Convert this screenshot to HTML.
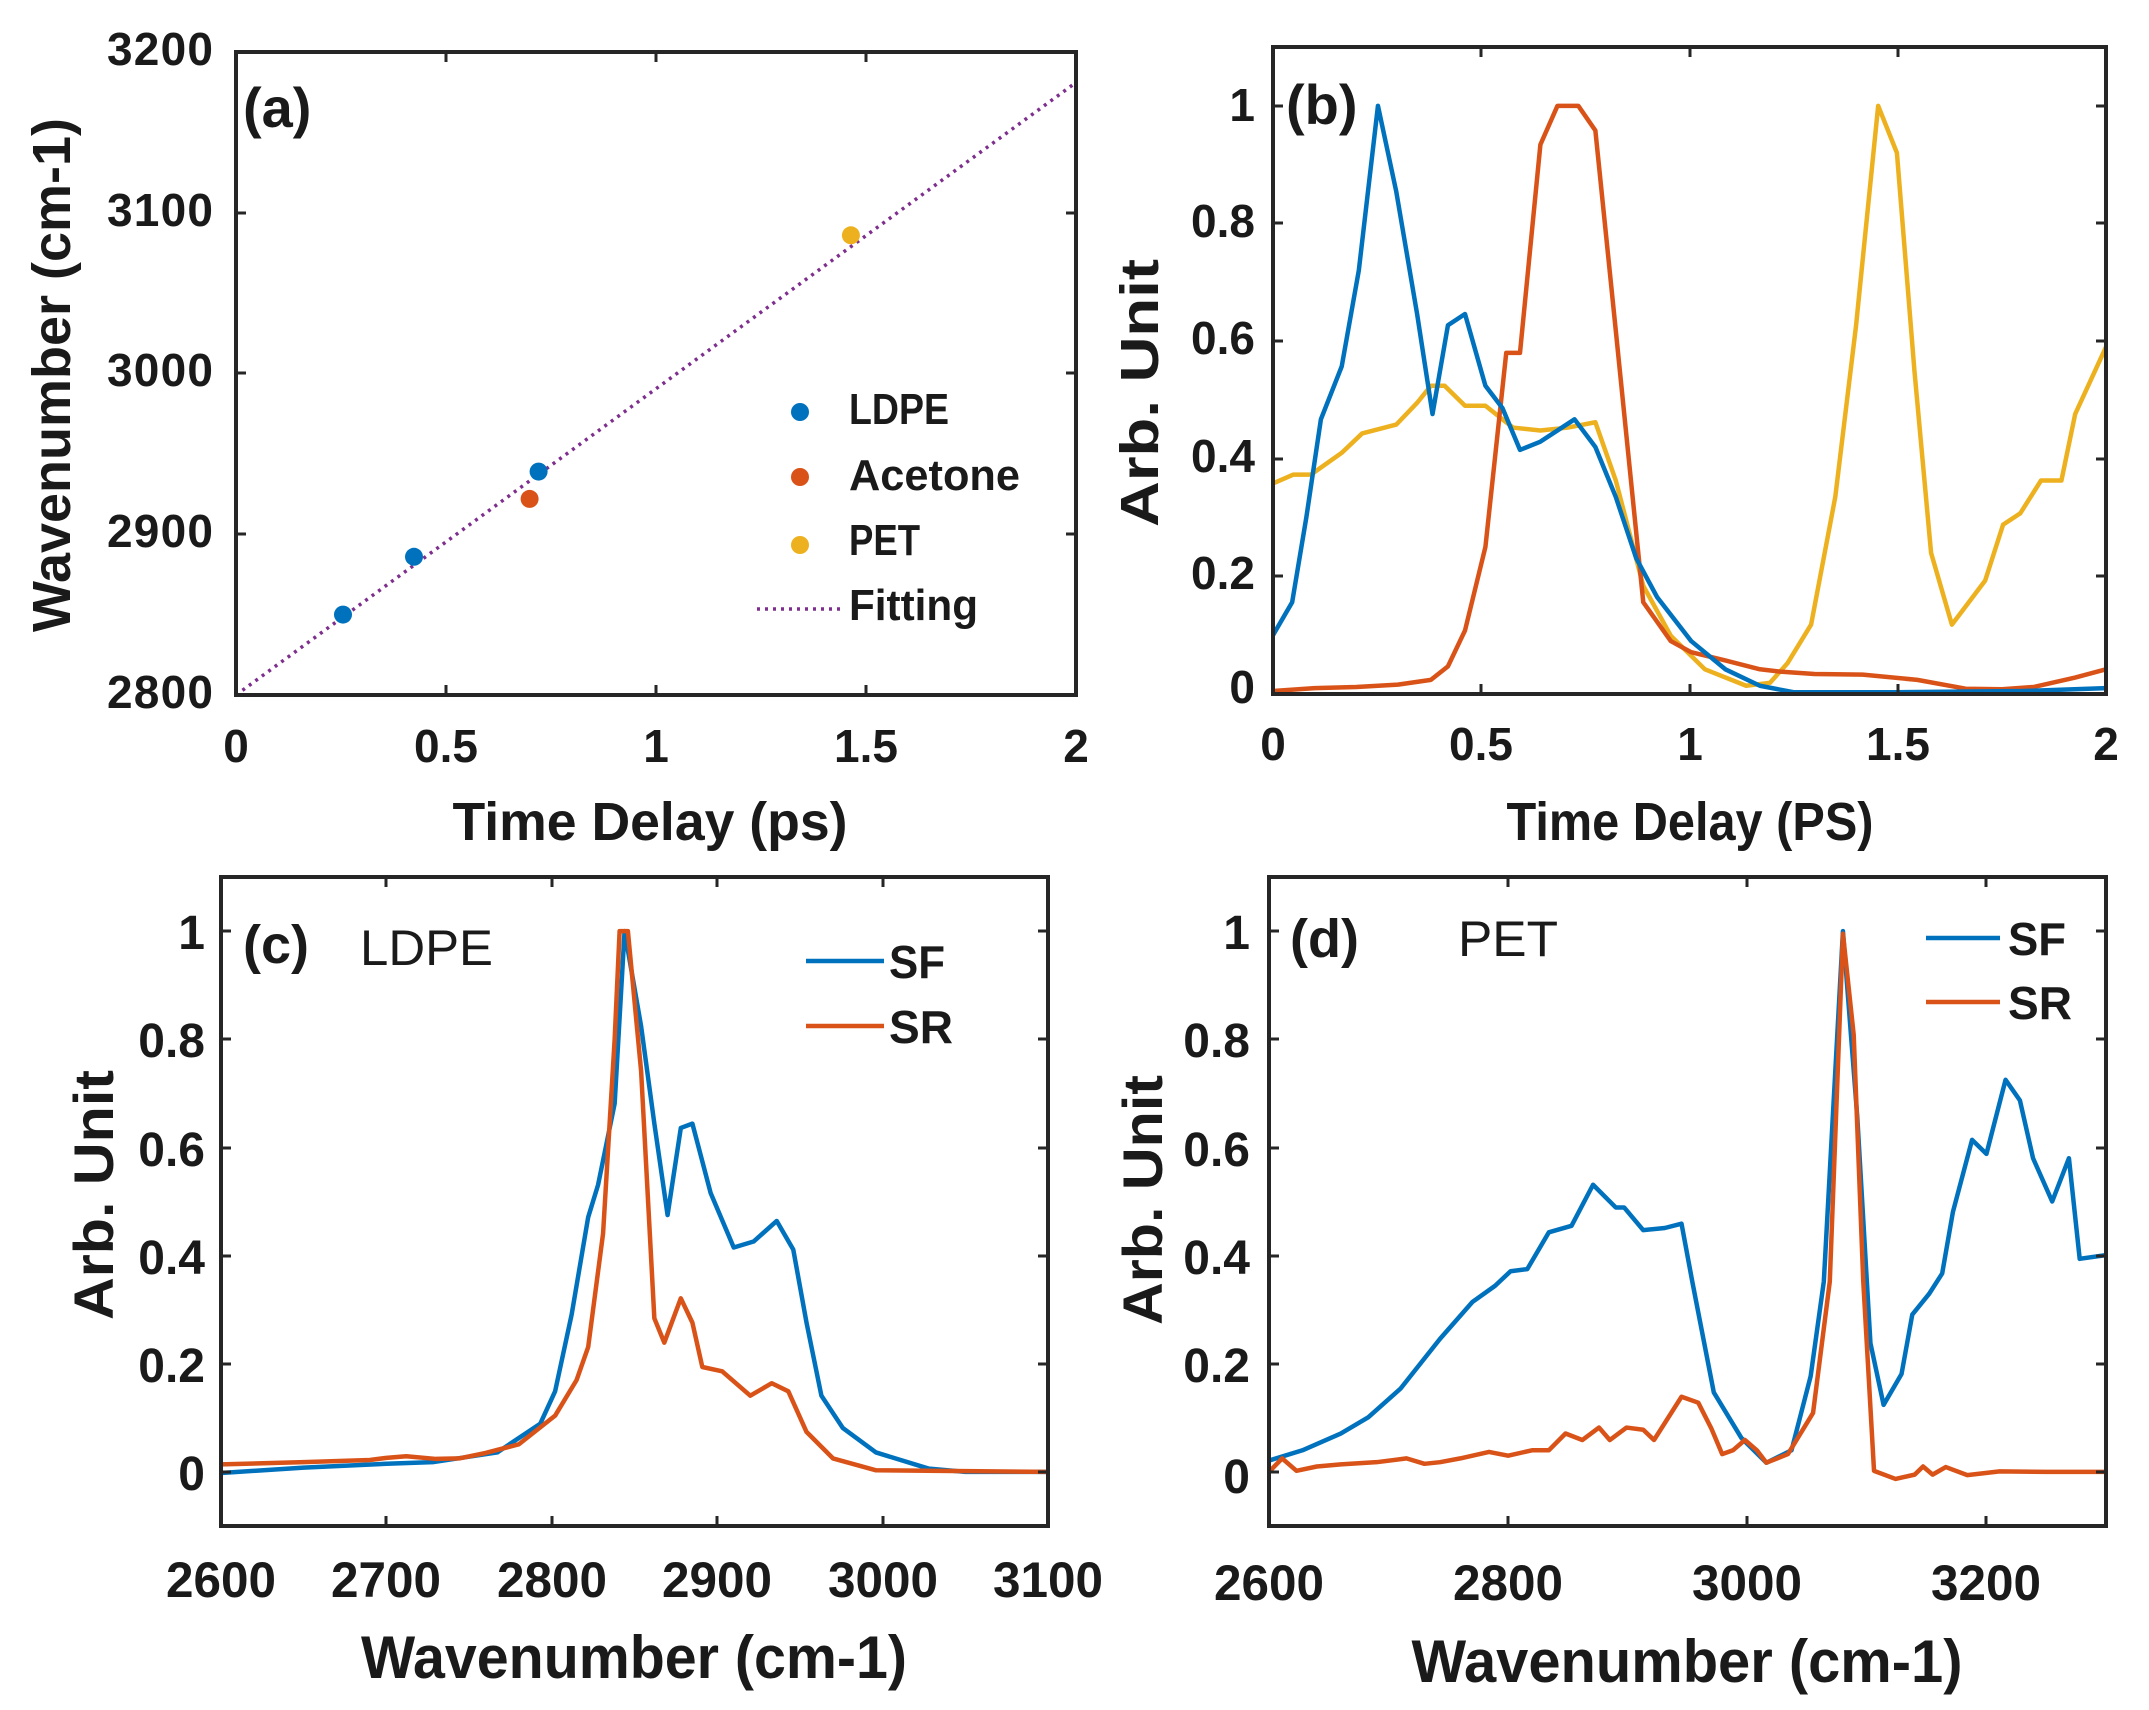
<!DOCTYPE html>
<html><head><meta charset="utf-8"><style>
html,body{margin:0;padding:0;background:#fff;}
svg{display:block;}
text{font-family:"Liberation Sans",Arial,sans-serif;fill:#1a1a1a;}
.b{font-weight:bold;}
</style></head><body>
<svg width="2149" height="1710" viewBox="0 0 2149 1710" xmlns="http://www.w3.org/2000/svg">
<rect width="2149" height="1710" fill="#fff"/>

<!-- ========== Panel (a) ========== -->
<line x1="236" y1="695" x2="1076" y2="82.5" stroke="#7E2F8E" stroke-width="3.5" stroke-dasharray="3,5"/>
<circle cx="343" cy="614.6" r="9" fill="#0072BD"/>
<circle cx="414" cy="556.8" r="9" fill="#0072BD"/>
<circle cx="538.6" cy="471.6" r="9" fill="#0072BD"/>
<circle cx="529.6" cy="498.9" r="9" fill="#D95319"/>
<circle cx="850.9" cy="235.3" r="9" fill="#EDB120"/>
<rect x="236" y="52" width="840" height="643" fill="none" stroke="#262626" stroke-width="4"/>
<g stroke="#262626" stroke-width="3">
<line x1="446" y1="695" x2="446" y2="685"/><line x1="656" y1="695" x2="656" y2="685"/><line x1="866" y1="695" x2="866" y2="685"/>
<line x1="446" y1="52" x2="446" y2="62"/><line x1="656" y1="52" x2="656" y2="62"/><line x1="866" y1="52" x2="866" y2="62"/>
<line x1="236" y1="213" x2="246" y2="213"/><line x1="236" y1="373" x2="246" y2="373"/><line x1="236" y1="534" x2="246" y2="534"/>
<line x1="1076" y1="213" x2="1066" y2="213"/><line x1="1076" y1="373" x2="1066" y2="373"/><line x1="1076" y1="534" x2="1066" y2="534"/>
</g>
<g class="b" font-size="46" text-anchor="end">
<text x="213" y="65" textLength="106">3200</text>
<text x="213" y="226" textLength="106">3100</text>
<text x="213" y="386" textLength="106">3000</text>
<text x="213" y="547" textLength="106">2900</text>
<text x="213" y="708" textLength="106">2800</text>
</g>
<g class="b" font-size="46" text-anchor="middle">
<text x="236" y="762">0</text>
<text x="446" y="762">0.5</text>
<text x="656" y="762">1</text>
<text x="866" y="762">1.5</text>
<text x="1076" y="762">2</text>
</g>
<text class="b" x="650" y="840" font-size="54" text-anchor="middle" textLength="395" lengthAdjust="spacingAndGlyphs">Time Delay (ps)</text>
<text class="b" font-size="54" text-anchor="middle" transform="translate(70,375) rotate(-90)" textLength="514" lengthAdjust="spacingAndGlyphs">Wavenumber (cm-1)</text>
<text class="b" x="243" y="127" font-size="56">(a)</text>
<!-- legend a -->
<circle cx="800" cy="412" r="9" fill="#0072BD"/>
<circle cx="800" cy="477" r="9" fill="#D95319"/>
<circle cx="800" cy="545" r="9" fill="#EDB120"/>
<line x1="757" y1="609" x2="843" y2="609" stroke="#7E2F8E" stroke-width="3.5" stroke-dasharray="3,5"/>
<g class="b" font-size="44">
<text x="849" y="424" textLength="100" lengthAdjust="spacingAndGlyphs">LDPE</text>
<text x="849" y="490" textLength="171" lengthAdjust="spacingAndGlyphs">Acetone</text>
<text x="849" y="555" textLength="71" lengthAdjust="spacingAndGlyphs">PET</text>
<text x="849" y="620" textLength="129" lengthAdjust="spacingAndGlyphs">Fitting</text>
</g>

<!-- ========== Panel (b) ========== -->
<svg x="1273" y="47" width="833" height="647" viewBox="0 -1.1 2 1.1" preserveAspectRatio="none">
<polyline vector-effect="non-scaling-stroke" stroke="#EDB120" stroke-width="4.5" fill="none" stroke-linejoin="round" points="0,-0.358 0.049,-0.373 0.091,-0.373 0.165,-0.41 0.214,-0.443 0.296,-0.458 0.346,-0.495 0.379,-0.524 0.412,-0.524 0.461,-0.49 0.51,-0.49 0.576,-0.453 0.642,-0.448 0.708,-0.453 0.774,-0.462 0.823,-0.363 0.889,-0.184 0.955,-0.099 1.037,-0.042 1.136,-0.014 1.193,-0.019 1.235,-0.052 1.292,-0.118 1.35,-0.335 1.4,-0.627 1.453,-1.0 1.498,-0.92 1.54,-0.55 1.58,-0.24 1.63,-0.118 1.66,-0.146 1.71,-0.193 1.753,-0.288 1.794,-0.307 1.844,-0.363 1.893,-0.363 1.926,-0.476 2,-0.59"/>
<polyline vector-effect="non-scaling-stroke" stroke="#D95319" stroke-width="4.5" fill="none" stroke-linejoin="round" points="0,-0.005 0.1,-0.01 0.2,-0.012 0.3,-0.016 0.379,-0.024 0.42,-0.047 0.461,-0.108 0.51,-0.25 0.56,-0.58 0.593,-0.58 0.642,-0.934 0.683,-1.0 0.733,-1.0 0.774,-0.958 0.823,-0.618 0.889,-0.156 0.955,-0.09 1.004,-0.071 1.086,-0.057 1.169,-0.042 1.218,-0.038 1.3,-0.034 1.416,-0.033 1.547,-0.024 1.663,-0.009 1.75,-0.008 1.827,-0.012 1.926,-0.028 2,-0.042"/>
<polyline vector-effect="non-scaling-stroke" stroke="#0072BD" stroke-width="4.5" fill="none" stroke-linejoin="round" points="0,-0.10 0.046,-0.156 0.08,-0.3 0.115,-0.467 0.165,-0.557 0.206,-0.72 0.252,-1.0 0.296,-0.854 0.346,-0.646 0.383,-0.476 0.42,-0.627 0.461,-0.646 0.51,-0.524 0.551,-0.486 0.593,-0.415 0.642,-0.429 0.724,-0.467 0.774,-0.42 0.823,-0.335 0.872,-0.231 0.922,-0.165 1.004,-0.09 1.086,-0.042 1.169,-0.014 1.25,-0.003 1.5,-0.003 1.8,-0.005 2,-0.01"/>
</svg>
<rect x="1273" y="47" width="833" height="647" fill="none" stroke="#262626" stroke-width="4"/>
<g stroke="#262626" stroke-width="3">
<line x1="1481" y1="694" x2="1481" y2="684"/><line x1="1690" y1="694" x2="1690" y2="684"/><line x1="1898" y1="694" x2="1898" y2="684"/>
<line x1="1481" y1="47" x2="1481" y2="57"/><line x1="1690" y1="47" x2="1690" y2="57"/><line x1="1898" y1="47" x2="1898" y2="57"/>
<line x1="1273" y1="576" x2="1283" y2="576"/><line x1="1273" y1="459" x2="1283" y2="459"/><line x1="1273" y1="341" x2="1283" y2="341"/><line x1="1273" y1="223" x2="1283" y2="223"/><line x1="1273" y1="106" x2="1283" y2="106"/>
<line x1="2106" y1="576" x2="2096" y2="576"/><line x1="2106" y1="459" x2="2096" y2="459"/><line x1="2106" y1="341" x2="2096" y2="341"/><line x1="2106" y1="223" x2="2096" y2="223"/><line x1="2106" y1="106" x2="2096" y2="106"/>
</g>
<g class="b" font-size="46" text-anchor="end">
<text x="1255" y="703">0</text>
<text x="1255" y="589">0.2</text>
<text x="1255" y="472">0.4</text>
<text x="1255" y="354">0.6</text>
<text x="1255" y="237">0.8</text>
<text x="1255" y="121">1</text>
</g>
<g class="b" font-size="46" text-anchor="middle">
<text x="1273" y="760">0</text>
<text x="1481" y="760">0.5</text>
<text x="1690" y="760">1</text>
<text x="1898" y="760">1.5</text>
<text x="2106" y="760">2</text>
</g>
<text class="b" x="1690" y="840" font-size="54" text-anchor="middle" textLength="367" lengthAdjust="spacingAndGlyphs">Time Delay (PS)</text>
<text class="b" font-size="54" text-anchor="middle" transform="translate(1158,393) rotate(-90)" textLength="268" lengthAdjust="spacingAndGlyphs">Arb. Unit</text>
<text class="b" x="1286" y="124" font-size="56">(b)</text>

<!-- ========== Panel (c) ========== -->
<svg x="221" y="877" width="827" height="649" viewBox="2600 -1.1 500 1.2" preserveAspectRatio="none">
<polyline vector-effect="non-scaling-stroke" stroke="#0072BD" stroke-width="4.5" fill="none" stroke-linejoin="round" points="2600,0.002 2650,-0.008 2700,-0.015 2728,-0.018 2767,-0.036 2793,-0.089 2802,-0.149 2812,-0.291 2822,-0.471 2828,-0.531 2838,-0.681 2844,-1.0 2854,-0.824 2862,-0.644 2870,-0.475 2878,-0.636 2885,-0.644 2896,-0.516 2910,-0.415 2922,-0.426 2936,-0.464 2946,-0.411 2954,-0.276 2963,-0.141 2976,-0.081 2996,-0.036 3028,-0.006 3050,0 3100,0"/>
<polyline vector-effect="non-scaling-stroke" stroke="#D95319" stroke-width="4.5" fill="none" stroke-linejoin="round" points="2600,-0.014 2650,-0.018 2690,-0.022 2700,-0.026 2712,-0.029 2730,-0.024 2744,-0.025 2760,-0.035 2780,-0.051 2802,-0.104 2815,-0.17 2822,-0.231 2831,-0.441 2838,-0.8 2841,-1.0 2846,-1.0 2854,-0.741 2862,-0.284 2868,-0.239 2878,-0.321 2885,-0.276 2891,-0.194 2903,-0.186 2920,-0.141 2933,-0.164 2943,-0.149 2954,-0.074 2970,-0.025 2996,-0.003 3100,0"/>
</svg>
<rect x="221" y="877" width="827" height="649" fill="none" stroke="#262626" stroke-width="4"/>
<g stroke="#262626" stroke-width="3">
<line x1="386" y1="1526" x2="386" y2="1516"/><line x1="552" y1="1526" x2="552" y2="1516"/><line x1="717" y1="1526" x2="717" y2="1516"/><line x1="883" y1="1526" x2="883" y2="1516"/>
<line x1="386" y1="877" x2="386" y2="887"/><line x1="552" y1="877" x2="552" y2="887"/><line x1="717" y1="877" x2="717" y2="887"/><line x1="883" y1="877" x2="883" y2="887"/>
<line x1="221" y1="1472" x2="231" y2="1472"/><line x1="221" y1="1364" x2="231" y2="1364"/><line x1="221" y1="1256" x2="231" y2="1256"/><line x1="221" y1="1148" x2="231" y2="1148"/><line x1="221" y1="1039" x2="231" y2="1039"/><line x1="221" y1="931" x2="231" y2="931"/>
<line x1="1048" y1="1472" x2="1038" y2="1472"/><line x1="1048" y1="1364" x2="1038" y2="1364"/><line x1="1048" y1="1256" x2="1038" y2="1256"/><line x1="1048" y1="1148" x2="1038" y2="1148"/><line x1="1048" y1="1039" x2="1038" y2="1039"/><line x1="1048" y1="931" x2="1038" y2="931"/>
</g>
<g class="b" font-size="48" text-anchor="end">
<text x="205" y="1490">0</text>
<text x="205" y="1382">0.2</text>
<text x="205" y="1274">0.4</text>
<text x="205" y="1166">0.6</text>
<text x="205" y="1057">0.8</text>
<text x="205" y="949">1</text>
</g>
<g class="b" font-size="50" text-anchor="middle">
<text x="221" y="1597" textLength="110" lengthAdjust="spacingAndGlyphs">2600</text>
<text x="386" y="1597" textLength="110" lengthAdjust="spacingAndGlyphs">2700</text>
<text x="552" y="1597" textLength="110" lengthAdjust="spacingAndGlyphs">2800</text>
<text x="717" y="1597" textLength="110" lengthAdjust="spacingAndGlyphs">2900</text>
<text x="883" y="1597" textLength="110" lengthAdjust="spacingAndGlyphs">3000</text>
<text x="1048" y="1597" textLength="110" lengthAdjust="spacingAndGlyphs">3100</text>
</g>
<text class="b" x="634" y="1678" font-size="60" text-anchor="middle" textLength="546" lengthAdjust="spacingAndGlyphs">Wavenumber (cm-1)</text>
<text class="b" font-size="56" text-anchor="middle" transform="translate(113,1195) rotate(-90)" textLength="250" lengthAdjust="spacingAndGlyphs">Arb. Unit</text>
<text class="b" x="243" y="963" font-size="54">(c)</text>
<text x="360" y="965" font-size="50" textLength="133" lengthAdjust="spacingAndGlyphs">LDPE</text>
<line x1="806" y1="961" x2="884" y2="961" stroke="#0072BD" stroke-width="4.5"/>
<line x1="806" y1="1026" x2="884" y2="1026" stroke="#D95319" stroke-width="4.5"/>
<g class="b" font-size="46">
<text x="889" y="978" textLength="56" lengthAdjust="spacingAndGlyphs">SF</text>
<text x="889" y="1043" textLength="64" lengthAdjust="spacingAndGlyphs">SR</text>
</g>

<!-- ========== Panel (d) ========== -->
<svg x="1269" y="877" width="837" height="649" viewBox="2600 -1.1 700 1.2" preserveAspectRatio="none">
<polyline vector-effect="non-scaling-stroke" stroke="#0072BD" stroke-width="4.5" fill="none" stroke-linejoin="round" points="2600,-0.021 2628,-0.04 2660,-0.071 2683,-0.101 2710,-0.154 2743,-0.246 2770,-0.314 2789,-0.344 2802,-0.371 2816,-0.375 2834,-0.443 2853,-0.455 2871,-0.531 2890,-0.489 2897,-0.489 2913,-0.447 2931,-0.451 2945,-0.459 2954,-0.352 2972,-0.147 2995,-0.063 3016,-0.017 3037,-0.040 3053,-0.177 3064,-0.352 3080,-1.0 3092,-0.656 3103,-0.238 3114,-0.124 3129,-0.181 3138,-0.291 3152,-0.329 3163,-0.367 3172,-0.481 3188,-0.614 3200,-0.588 3216,-0.725 3228,-0.687 3239,-0.580 3255,-0.500 3269,-0.580 3278,-0.394 3300,-0.401"/>
<polyline vector-effect="non-scaling-stroke" stroke="#D95319" stroke-width="4.5" fill="none" stroke-linejoin="round" points="2600,0 2611,-0.025 2623,-0.002 2640,-0.01 2660,-0.014 2690,-0.018 2715,-0.025 2730,-0.015 2743,-0.018 2760,-0.025 2784,-0.037 2800,-0.03 2820,-0.04 2834,-0.040 2848,-0.071 2862,-0.059 2876,-0.082 2885,-0.059 2899,-0.082 2913,-0.078 2922,-0.059 2945,-0.139 2959,-0.128 2970,-0.08 2979,-0.033 2988,-0.04 2998,-0.059 3008,-0.04 3016,-0.017 3034,-0.033 3055,-0.109 3069,-0.352 3080,-0.995 3089,-0.808 3097,-0.352 3106,-0.002 3124,0.013 3140,0.005 3147,-0.01 3155,0.005 3166,-0.009 3184,0.006 3211,-0.001 3250,0 3300,0"/>
</svg>
<rect x="1269" y="877" width="837" height="649" fill="none" stroke="#262626" stroke-width="4"/>
<g stroke="#262626" stroke-width="3">
<line x1="1508" y1="1526" x2="1508" y2="1516"/><line x1="1747" y1="1526" x2="1747" y2="1516"/><line x1="1986" y1="1526" x2="1986" y2="1516"/>
<line x1="1508" y1="877" x2="1508" y2="887"/><line x1="1747" y1="877" x2="1747" y2="887"/><line x1="1986" y1="877" x2="1986" y2="887"/>
<line x1="1269" y1="1472" x2="1279" y2="1472"/><line x1="1269" y1="1364" x2="1279" y2="1364"/><line x1="1269" y1="1256" x2="1279" y2="1256"/><line x1="1269" y1="1148" x2="1279" y2="1148"/><line x1="1269" y1="1039" x2="1279" y2="1039"/><line x1="1269" y1="931" x2="1279" y2="931"/>
<line x1="2106" y1="1472" x2="2096" y2="1472"/><line x1="2106" y1="1364" x2="2096" y2="1364"/><line x1="2106" y1="1256" x2="2096" y2="1256"/><line x1="2106" y1="1148" x2="2096" y2="1148"/><line x1="2106" y1="1039" x2="2096" y2="1039"/><line x1="2106" y1="931" x2="2096" y2="931"/>
</g>
<g class="b" font-size="48" text-anchor="end">
<text x="1250" y="1493">0</text>
<text x="1250" y="1382">0.2</text>
<text x="1250" y="1274">0.4</text>
<text x="1250" y="1166">0.6</text>
<text x="1250" y="1057">0.8</text>
<text x="1250" y="949">1</text>
</g>
<g class="b" font-size="50" text-anchor="middle">
<text x="1269" y="1600" textLength="110" lengthAdjust="spacingAndGlyphs">2600</text>
<text x="1508" y="1600" textLength="110" lengthAdjust="spacingAndGlyphs">2800</text>
<text x="1747" y="1600" textLength="110" lengthAdjust="spacingAndGlyphs">3000</text>
<text x="1986" y="1600" textLength="110" lengthAdjust="spacingAndGlyphs">3200</text>
</g>
<text class="b" x="1687" y="1682" font-size="60" text-anchor="middle" textLength="551" lengthAdjust="spacingAndGlyphs">Wavenumber (cm-1)</text>
<text class="b" font-size="56" text-anchor="middle" transform="translate(1162,1200) rotate(-90)" textLength="250" lengthAdjust="spacingAndGlyphs">Arb. Unit</text>
<text class="b" x="1290" y="957" font-size="54">(d)</text>
<text x="1458" y="956" font-size="50" textLength="100" lengthAdjust="spacingAndGlyphs">PET</text>
<line x1="1926" y1="938" x2="2000" y2="938" stroke="#0072BD" stroke-width="4.5"/>
<line x1="1926" y1="1002" x2="2000" y2="1002" stroke="#D95319" stroke-width="4.5"/>
<g class="b" font-size="46">
<text x="2008" y="955" textLength="58" lengthAdjust="spacingAndGlyphs">SF</text>
<text x="2008" y="1019" textLength="64" lengthAdjust="spacingAndGlyphs">SR</text>
</g>
</svg>
</body></html>
